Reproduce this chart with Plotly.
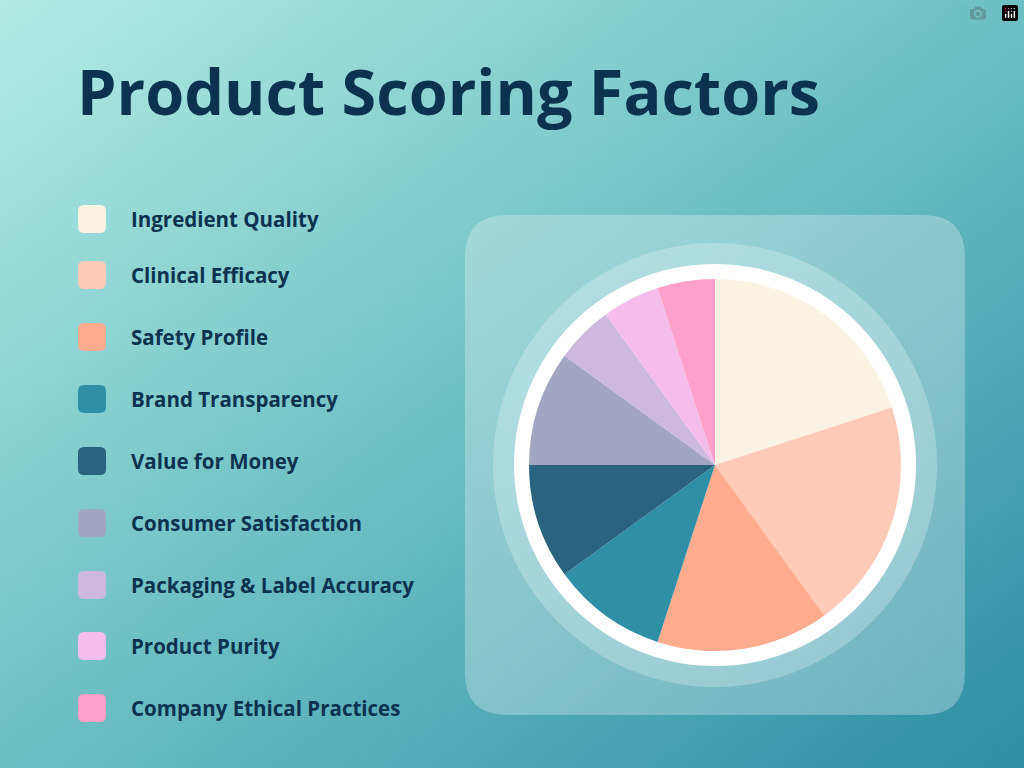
# Product Scoring Factors - pie with custom legend
import base64
import plotly.graph_objects as go

# ── data ──────────────────────────────────────
factors = ["Ingredient Quality", "Clinical Efficacy", "Safety Profile",
           "Brand Transparency", "Value for Money", "Consumer Satisfaction",
           "Packaging & Label Accuracy", "Product Purity", "Company Ethical Practices"]
weights = [20, 20, 15, 10, 10, 10, 5, 5, 5]
colors = ["#FAF3E3", "#FFCBB8", "#FFAB8E", "#2E8FA5", "#29637D",
          "#A2A6C3", "#CDB9DF", "#F5BDEB", "#FFA0CB"]

W, H = 1024, 768
TEXT = "#0B3350"

def px(x): return x / W
def py(y): return 1 - y / H

def rrect(x0, y0, x1, y1, r):
    # rounded rectangle path in pixel space -> paper coords
    X = lambda v: f"{px(v):.5f}"
    Y = lambda v: f"{py(v):.5f}"
    return (f"M {X(x0+r)},{Y(y0)} L {X(x1-r)},{Y(y0)} Q {X(x1)},{Y(y0)} {X(x1)},{Y(y0+r)} "
            f"L {X(x1)},{Y(y1-r)} Q {X(x1)},{Y(y1)} {X(x1-r)},{Y(y1)} "
            f"L {X(x0+r)},{Y(y1)} Q {X(x0)},{Y(y1)} {X(x0)},{Y(y1-r)} "
            f"L {X(x0)},{Y(y0+r)} Q {X(x0)},{Y(y0)} {X(x0+r)},{Y(y0)} Z")

# gradient background as an svg image
svg = (f'<svg xmlns="http://www.w3.org/2000/svg" width="{W}" height="{H}">'
       '<defs><linearGradient id="g" x1="0" y1="0" x2="1" y2="1">'
       '<stop offset="0" stop-color="#B2ECE4"/><stop offset="0.5" stop-color="#6DBFC4"/>'
       '<stop offset="1" stop-color="#2D8DA3"/></linearGradient></defs>'
       f'<rect width="{W}" height="{H}" fill="url(#g)"/></svg>')
bg = "data:image/svg+xml;base64," + base64.b64encode(svg.encode()).decode()

cx, cy, R = 715, 465, 186

fig = go.Figure(go.Pie(
    labels=factors, values=weights, sort=False, direction="clockwise", rotation=0,
    marker=dict(colors=colors, line=dict(width=0)), textinfo="none",
    hoverinfo="label+percent", showlegend=False,
    domain=dict(x=[px(cx - R), px(cx + R)], y=[py(cy + R), py(cy - R)]),
))

shapes = [
    dict(type="path", path=rrect(465, 215, 965, 715, 42), fillcolor="rgba(255,255,255,0.28)",
         line=dict(width=0), layer="below"),
    dict(type="circle", x0=px(cx - 222), x1=px(cx + 222), y0=py(cy + 222), y1=py(cy - 222),
         fillcolor="rgba(255,255,255,0.25)", line=dict(width=0), layer="below"),
    dict(type="circle", x0=px(cx - 201), x1=px(cx + 201), y0=py(cy + 201), y1=py(cy - 201),
         fillcolor="white", line=dict(width=0), layer="below"),
]
annotations = [dict(text="<b>Product Scoring Factors</b>", x=px(75), y=py(90), xanchor="left",
                    yanchor="middle", showarrow=False,
                    font=dict(family="Open Sans", size=63, color=TEXT))]

rows = [219, 275, 337, 399, 461, 523, 585, 646, 708]
for name, col, yc in zip(factors, colors, rows):
    shapes.append(dict(type="path", path=rrect(78, yc - 14, 106, yc + 14, 6),
                       fillcolor=col, line=dict(width=0), layer="below"))
    annotations.append(dict(text=f"<b>{name}</b>", x=px(129), y=py(yc), xanchor="left",
                            yanchor="middle", showarrow=False,
                            font=dict(family="Open Sans", size=20.5, color=TEXT)))

fig.update_layout(
    width=W, height=H, margin=dict(l=0, r=0, t=0, b=0),
    paper_bgcolor="#6DBFC4", plot_bgcolor="rgba(0,0,0,0)",
    images=[dict(source=bg, xref="paper", yref="paper", x=0, y=1, sizex=1, sizey=1,
                 sizing="stretch", layer="below")],
    shapes=shapes, annotations=annotations,
    xaxis=dict(visible=False), yaxis=dict(visible=False),
)
# drop the page's default body margin so the figure sits at the corner
fig.write_html("out.html",
               post_script="document.body.style.margin='0';document.body.style.overflow='hidden';")
